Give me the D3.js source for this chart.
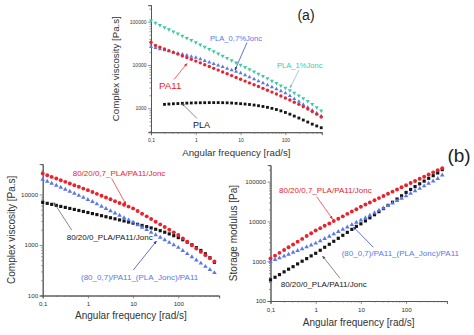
<!DOCTYPE html>
<html>
<head>
<meta charset="utf-8">
<script src="https://cdn.jsdelivr.net/npm/d3@7"></script>
<style>
  body { margin: 0; background: #fff; }
  text { font-family: Arial, "Liberation Sans", sans-serif; }
</style>
</head>
<body>
<svg id="fig" width="474" height="335"></svg>
<script>
// angular frequency sweep, rad/s (10 points per decade)
const freq = [0.1, 0.126, 0.158, 0.2, 0.251, 0.316, 0.398, 0.501, 0.631, 0.794,
  1, 1.26, 1.58, 2, 2.51, 3.16, 3.98, 5.01, 6.31, 7.94,
  10, 12.6, 15.8, 20, 25.1, 31.6, 39.8, 50.1, 63.1, 79.4,
  100, 126, 158, 200, 251, 316, 398, 501, 631];
const freqPLA = [0.2, 0.251, 0.316, 0.398, 0.501, 0.631, 0.794,
  1, 1.26, 1.58, 2, 2.51, 3.16, 3.98, 5.01, 6.31, 7.94,
  10, 12.6, 15.8, 20, 25.1, 31.6, 39.8, 50.1, 63.1, 79.4,
  100, 126, 158, 200, 251, 316, 398, 501, 631];

// (a) complex viscosity of the neat polymers, Pa.s
const etaPLA = [1230, 1250, 1270, 1285, 1300, 1315, 1325, 1335, 1340, 1345,
  1350, 1350, 1350, 1345, 1335, 1320, 1300, 1275, 1250, 1220,
  1185, 1145, 1100, 1050, 995, 935, 870, 800, 730, 660,
  595, 535, 480, 430, 390, 355];
const etaPA11 = [33400, 28200, 25700, 23400, 21400, 19500, 17800, 16200, 14800, 13500,
  12300, 11200, 10150, 9200, 8350, 7600, 6900, 6250, 5680, 5150,
  4680, 4240, 3850, 3500, 3170, 2880, 2610, 2360, 2130, 1920,
  1730, 1550, 1380, 1230, 1090, 960, 840, 730, 630];
const etaPLA07 = [26300, 24800, 23400, 22100, 20900, 19700, 18600, 17600, 16600, 15700,
  14800, 13600, 12500, 11500, 10600, 9770, 9000, 8270, 7610, 7000,
  6460, 5810, 5220, 4700, 4230, 3800, 3420, 3080, 2770, 2490,
  2240, 1930, 1660, 1420, 1220, 1050, 900, 770, 660];
const etaPLA1 = [105000, 93000, 83000, 74000, 66000, 59000, 52500, 47000, 41700, 37200,
  33100, 29400, 26100, 23100, 20500, 18200, 16100, 14300, 12700, 11300,
  10000, 8870, 7870, 6980, 6190, 5490, 4860, 4290, 3790, 3340,
  2940, 2580, 2250, 1950, 1690, 1450, 1240, 1050, 880];

// (b) blends: complex viscosity, Pa.s
const etaBlend07 = [26000, 24100, 22300, 20700, 19200, 17800, 16500, 15300, 14200, 13100,
  12200, 11200, 10300, 9480, 8730, 8030, 7390, 6800, 6260, 5760,
  5310, 4700, 4160, 3690, 3270, 2890, 2560, 2270, 2010, 1780,
  1580, 1350, 1160, 990, 850, 730, 630, 545, 470];
const etaBlend0 = [7000, 6680, 6380, 6090, 5810, 5550, 5300, 5060, 4830, 4610,
  4400, 4190, 4000, 3810, 3630, 3460, 3300, 3140, 2990, 2850,
  2710, 2570, 2440, 2310, 2180, 2050, 1920, 1790, 1660, 1530,
  1400, 1270, 1140, 1010, 890, 780, 670, 560, 455];
const etaMaster = [19950, 18200, 16600, 15100, 13800, 12600, 11500, 10500, 9550, 8710,
  7940, 7200, 6480, 5830, 5250, 4730, 4260, 3840, 3460, 3120,
  2820, 2510, 2240, 2000, 1780, 1580, 1410, 1260, 1120, 1000,
  890, 770, 670, 580, 500, 435, 375, 325, 282];

// (b) blends: storage modulus, Pa
const gBlend07 = [1175, 1380, 1620, 1910, 2240, 2630, 3100, 3640, 4280, 5030,
  5900, 6770, 7760, 8890, 10200, 11700, 13400, 15500, 17700, 20300,
  23400, 26500, 30000, 34000, 38500, 43700, 49500, 56000, 63500, 71900,
  81300, 91900, 104000, 118000, 133000, 151000, 171000, 193000, 218000];
const gBlend0 = [340, 395, 460, 540, 630, 730, 855, 1000, 1160, 1360,
  1580, 1880, 2240, 2660, 3160, 3760, 4470, 5310, 6310, 7500,
  8700, 10300, 12300, 14700, 17600, 21000, 25200, 30300, 36500, 44000,
  53500, 63500, 75000, 88000, 103000, 121000, 141000, 165000, 200000];
const gMaster = [980, 1090, 1200, 1340, 1490, 1660, 1840, 2040, 2270, 2530,
  2820, 3220, 3690, 4210, 4820, 5500, 6290, 7190, 8220, 9400,
  10700, 12300, 14200, 16300, 18800, 21600, 24900, 28600, 33000, 37900,
  43600, 50300, 58100, 67100, 77400, 89700, 103000, 119000, 145000];

const xTicks = [0.1, 1, 10, 100];
const yTicksA = [1000, 10000, 100000];
const yTicksEta = [100, 1000, 10000];
const yTicksG = [100, 1000, 10000, 100000];

const RED = '#e8232d';
const BLUE = '#5a78e6';
const GREEN = '#3fc9a0';
const BLACK = '#151515';

const svg = d3.select('#fig');
const defs = svg.append('defs');

function arrowMarker(id, color) {
  defs.append('marker')
    .attr('id', id)
    .attr('viewBox', '0 0 10 10')
    .attr('refX', 9).attr('refY', 5)
    .attr('markerWidth', 5).attr('markerHeight', 5)
    .attr('orient', 'auto')
    .append('path')
    .attr('d', 'M0,1 L10,5 L0,9 Z')
    .attr('fill', color);
}
arrowMarker('ah-red', RED);
arrowMarker('ah-blue', '#2236b8');
arrowMarker('ah-green', '#7fb9d2');
arrowMarker('ah-gray', '#555');

const fmt = d => String(d).replace('.', ',');

function minorTicks(domain) {
  const out = [];
  for (let e = -2; e <= 6; e++) {
    for (let m = 2; m <= 9; m++) {
      const v = m * Math.pow(10, e);
      if (v > domain[0] && v < domain[1]) out.push(v);
    }
  }
  return out;
}

function panel(opt) {
  const x = d3.scaleLog().domain(opt.xDomain).range(opt.xRange);
  const y = d3.scaleLog().domain(opt.yDomain).range(opt.yRange);
  const g = svg.append('g');

  const xAxis = g.append('g').attr('transform', `translate(0,${opt.yRange[0]})`);
  xAxis.call(d3.axisBottom(x).tickValues(xTicks).tickFormat(fmt).tickSizeOuter(0).tickSize(3).tickPadding(opt.xPad));
  xAxis.append('g').call(d3.axisBottom(x).tickValues(minorTicks(opt.xDomain)).tickFormat('').tickSizeOuter(0).tickSize(1.5));

  const yAxis = g.append('g').attr('transform', `translate(${opt.xRange[0]},0)`);
  yAxis.call(d3.axisLeft(y).tickValues(opt.yTicks).tickFormat(d3.format('d')).tickSizeOuter(0).tickSize(3).tickPadding(1.5));
  yAxis.append('g').call(d3.axisLeft(y).tickValues(minorTicks(opt.yDomain)).tickFormat('').tickSizeOuter(0).tickSize(1.5));

  g.selectAll('.domain').attr('stroke', '#555').attr('stroke-width', 0.9);
  g.selectAll('.tick line').attr('stroke', '#666').attr('stroke-width', 0.7);
  g.selectAll('.tick text').attr('font-size', opt.tickFont).attr('fill', '#333')
    .attr('font-family', 'Arial, "Liberation Sans", sans-serif');

  g.append('text')
    .attr('x', d3.mean(opt.xRange)).attr('y', opt.xTitleY)
    .attr('text-anchor', 'middle').attr('font-size', opt.titleFont).attr('fill', '#333')
    .text('Angular frequency [rad/s]');
  g.append('text')
    .attr('transform', `translate(${opt.yTitleX},${d3.mean(opt.yRange)}) rotate(-90)`)
    .attr('text-anchor', 'middle').attr('font-size', opt.titleFont).attr('fill', '#333')
    .text(opt.yTitle);

  return { g, x, y };
}

function series(p, xs, ys, color, shape, size, rot) {
  const sym = d3.symbol().type(shape).size(size);
  p.g.append('g').selectAll('path')
    .data(ys)
    .join('path')
    .attr('d', sym)
    .attr('transform', (d, i) => `translate(${p.x(xs[i])},${p.y(d)}) rotate(${rot || 0})`)
    .attr('fill', color);
}

function note(p, txt, tx, ty, color, size, from, to, lineColor, marker) {
  p.g.append('line')
    .attr('x1', from[0]).attr('y1', from[1])
    .attr('x2', to[0]).attr('y2', to[1])
    .attr('stroke', lineColor).attr('stroke-width', 0.7)
    .attr('marker-end', `url(#${marker})`);
  p.g.append('text')
    .attr('x', tx).attr('y', ty)
    .attr('font-size', size).attr('fill', color)
    .text(txt);
}

// (a) neat PLA, PA11 and PLA with Jonc
const pa = panel({
  xDomain: [0.1, 650], xRange: [151, 321.8],
  yDomain: [280, 240000], yRange: [132.2, 5.2],
  yTicks: yTicksA, tickFont: 5, titleFont: 9.7, xPad: 3,
  xTitleY: 156, yTitleX: 118.5, yTitle: 'Complex viscosity [Pa.s]'
});
series(pa, freq, etaPLA1, GREEN, d3.symbolTriangle, 7, 180);
series(pa, freq, etaPLA07, BLUE, d3.symbolTriangle, 7, 0);
series(pa, freq, etaPA11, RED, d3.symbolCircle, 9, 0);
series(pa, freqPLA, etaPLA, BLACK, d3.symbolSquare, 8, 0);
note(pa, 'PLA_0,7%Jonc', 210, 40.5, BLUE, 7.6, [247, 42.5], [235, 70], '#2236b8', 'ah-blue');
note(pa, 'PLA_1%Jonc', 277, 68, GREEN, 7.6, [299, 70], [290, 88], '#7fb9d2', 'ah-green');
note(pa, 'PA11', 159, 88.5, RED, 9.8, [174, 79.5], [187, 63.5], RED, 'ah-red');
note(pa, 'PLA', 193, 127.5, BLACK, 9, [197, 118.5], [182, 103.5], '#555', 'ah-gray');
pa.g.append('text').attr('x', 306).attr('y', 20).attr('text-anchor', 'middle')
  .attr('font-size', 14).attr('fill', '#222').text('(a)');

// (b) left: complex viscosity of the blends
const pb = panel({
  xDomain: [0.1, 800], xRange: [42.7, 219.1],
  yDomain: [100, 40000], yRange: [295.5, 164.1],
  yTicks: yTicksEta, tickFont: 6.2, titleFont: 10, xPad: 3,
  xTitleY: 318.5, yTitleX: 15, yTitle: 'Complex viscosity [Pa.s]'
});
series(pb, freq, etaBlend0, BLACK, d3.symbolSquare, 10, 0);
series(pb, freq, etaMaster, BLUE, d3.symbolTriangle, 9, 0);
series(pb, freq, etaBlend07, RED, d3.symbolCircle, 12, 0);
note(pb, '80/20/0,7_PLA/PA11/Jonc', 72.7, 176.3, RED, 8, [111.7, 178.5], [126, 204.5], RED, 'ah-red');
note(pb, '80/20/0_PLA/PA11/Jonc', 66.7, 239.5, BLACK, 8, [71.7, 230], [53.8, 202.5], '#555', 'ah-gray');
note(pb, '(80_0,7)/PA11_(PLA_Jonc)/PA11', 81, 279.5, BLUE, 8, [133.3, 270], [156.5, 241], '#2236b8', 'ah-blue');

// (b) right: storage modulus of the blends
const pc = panel({
  xDomain: [0.1, 800], xRange: [270.5, 446.9],
  yDomain: [100, 260000], yRange: [301, 165.1],
  yTicks: yTicksG, tickFont: 6.2, titleFont: 10, xPad: 3.5,
  xTitleY: 326, yTitleX: 236.5, yTitle: 'Storage modulus [Pa]'
});
series(pc, freq, gBlend0, BLACK, d3.symbolSquare, 10, 0);
series(pc, freq, gMaster, BLUE, d3.symbolTriangle, 9, 0);
series(pc, freq, gBlend07, RED, d3.symbolCircle, 12, 0);
note(pc, '80/20/0,7_PLA/PA11/Jonc', 279, 193, RED, 8, [316.7, 196.7], [332.5, 219], RED, 'ah-red');
note(pc, '(80_0,7)/PA11_(PLA_Jonc)/PA11', 341.7, 256, BLUE, 8, [373.3, 247.3], [353.5, 227], '#2236b8', 'ah-blue');
note(pc, '80/20/0_PLA/PA11/Jonc', 280.7, 287, BLACK, 8, [340, 278.3], [322.5, 256], '#555', 'ah-gray');
pc.g.append('text').attr('x', 459).attr('y', 162).attr('text-anchor', 'middle')
  .attr('font-size', 19).attr('fill', '#222').text('(b)');
</script>
</body>
</html>
